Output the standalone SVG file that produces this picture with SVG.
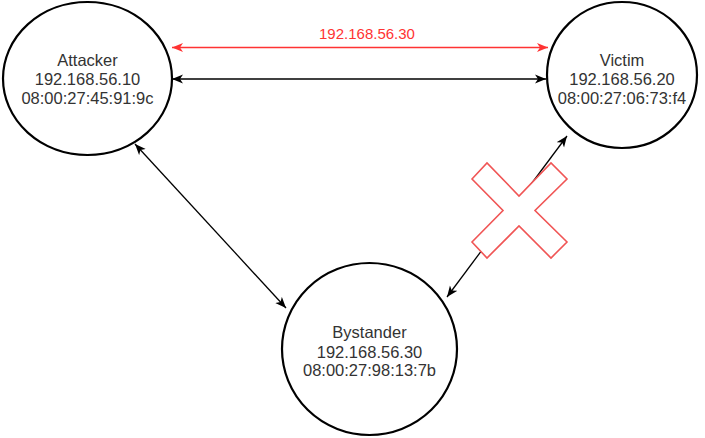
<svg xmlns="http://www.w3.org/2000/svg" width="705" height="438" viewBox="0 0 705 438">
  <style>
    .node { fill: #ffffff; stroke: #000000; stroke-width: 2.2; }
    .lbl { font-family: "Liberation Sans", Arial, sans-serif; font-size: 16.5px; fill: #333333; text-anchor: middle; }
    .conn { fill: none; stroke: #000000; stroke-width: 1.3; }
    .red { stroke: #FF3333; }
    .redtxt { font-family: "Liberation Sans", Arial, sans-serif; font-size: 15px; fill: #FF3333; text-anchor: middle; }
  </style>
  <defs>
    <marker id="ab" markerUnits="userSpaceOnUse" markerWidth="12" markerHeight="10" refX="11" refY="5" orient="auto-start-reverse">
      <path d="M0,0.5 L11,5 L0,9.5 L3,5 Z" fill="#000000"/>
    </marker>
    <marker id="ar" markerUnits="userSpaceOnUse" markerWidth="12" markerHeight="10" refX="11" refY="5" orient="auto-start-reverse">
      <path d="M0,0.5 L11,5 L0,9.5 L3,5 Z" fill="#FF3333"/>
    </marker>
  </defs>
  <rect width="705" height="438" fill="#ffffff"/>
  <g id="connectors">
    <line class="conn red" x1="172" y1="47.5" x2="548" y2="47.5" marker-start="url(#ar)" marker-end="url(#ar)"/>
    <text class="redtxt" x="367" y="38.5">192.168.56.30</text>
    <line class="conn" x1="172" y1="79" x2="546" y2="79" marker-start="url(#ab)" marker-end="url(#ab)"/>
    <line class="conn" x1="135" y1="144" x2="286" y2="308" marker-start="url(#ab)" marker-end="url(#ab)"/>
    <line class="conn" x1="567" y1="136" x2="447" y2="297" marker-start="url(#ab)" marker-end="url(#ab)"/>
  </g>
  <g id="cross">
    <polygon points="472,179 487,163 519,196 551,163 567,179 535,210.5 567,242 551,258 519,226 487,258 472,242 503,210.5" fill="#ffffff" stroke="#F05555" stroke-width="1.6"/>
  </g>
  <g id="attacker">
    <ellipse class="node" cx="87.5" cy="78.5" rx="84.5" ry="76.5"/>
    <text class="lbl" x="87.5" y="66">Attacker</text>
    <text class="lbl" x="87.5" y="85">192.168.56.10</text>
    <text class="lbl" x="87.5" y="104">08:00:27:45:91:9c</text>
  </g>
  <g id="victim">
    <ellipse class="node" cx="622" cy="75" rx="75" ry="73"/>
    <text class="lbl" x="622" y="66">Victim</text>
    <text class="lbl" x="622" y="85">192.168.56.20</text>
    <text class="lbl" x="622" y="104">08:00:27:06:73:f4</text>
  </g>
  <g id="bystander">
    <ellipse class="node" cx="369.5" cy="349" rx="87.5" ry="86"/>
    <text class="lbl" x="369.5" y="338">Bystander</text>
    <text class="lbl" x="369.5" y="357.5">192.168.56.30</text>
    <text class="lbl" x="369.5" y="376">08:00:27:98:13:7b</text>
  </g>
</svg>
